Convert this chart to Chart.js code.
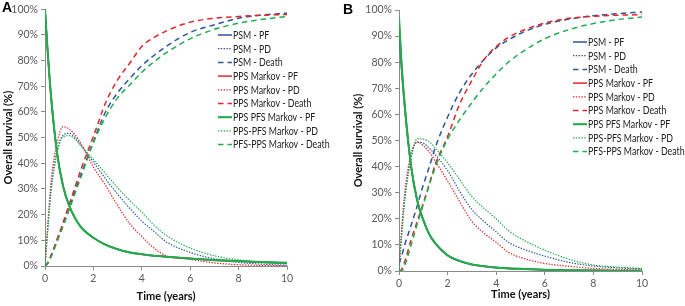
<!DOCTYPE html>
<html>
<head>
<meta charset="utf-8">
<script src="https://cdn.jsdelivr.net/npm/chart.js@4.4.1/dist/chart.umd.min.js"></script>
<style>
  html, body { margin: 0; padding: 0; background: #fff; }
  .panel { position: absolute; top: 0; height: 306px; }
  .tag { position: absolute; font: bold 14px "Liberation Sans", Arial, sans-serif; color: #000; }
</style>
</head>
<body>
<div class="panel" style="left:0;width:340px"><canvas id="chartA"></canvas></div>
<div class="panel" style="left:340px;width:345px"><canvas id="chartB"></canvas></div>
<div class="tag" style="left:2px;top:-1px">A</div>
<div class="tag" style="left:343px;top:1px">B</div>
<script>
// time points (years) shared by every series
const timeYears = [0, 0.1, 0.25, 0.5, 0.75, 1, 1.25, 1.5, 2, 2.5, 3, 3.5, 4, 4.5, 5, 6, 7, 8, 9, 10];

const seriesLabels = [
  "PSM - PF", "PSM - PD", "PSM - Death",
  "PPS Markov - PF", "PPS Markov - PD", "PPS Markov - Death",
  "PPS PFS Markov - PF", "PPS-PFS Markov - PD", "PFS-PPS Markov - Death"
];

// panel A (%)
const aPsmPf    = [100, 85, 66, 44, 31, 23.5, 18.5, 15, 11, 8.3, 6.5, 5.3, 4.6, 4, 3.6, 2.9, 2.3, 1.9, 1.5, 1.2];
const aPsmPd    = [0, 13, 30, 45, 51, 51.7, 50, 46.8, 40.5, 34, 28, 22.5, 17.5, 13.5, 9.5, 5.3, 2.8, 1.4, 0.7, 0.3];
const aPsmDeath = [0, 1, 4, 10, 16, 22.5, 29.5, 36, 48.5, 60, 67.5, 73, 78, 82, 85.5, 91, 94, 96.5, 97.8, 98.5];
const aPpsPf    = [100, 85, 66, 44, 31, 23.5, 18.5, 15, 11, 8.3, 6.5, 5.3, 4.6, 4, 3.6, 2.9, 2.3, 1.9, 1.5, 1.2];
const aPpsPd    = [0, 14, 33, 48, 54.3, 53.3, 51, 47.5, 38.5, 31.5, 23.5, 16.5, 11.5, 7, 4, 2.6, 1.2, 0.5, 0.2, 0.1];
const aPpsDeath = [0, 1, 4, 10.5, 17, 24, 31, 38, 50.5, 63.5, 72.5, 79, 85.5, 89, 91.5, 95, 96.5, 97.2, 97.7, 98];
const aPfsPf    = [100, 85, 66, 44, 31, 23.5, 18.5, 15, 11, 8.3, 6.5, 5.3, 4.6, 4, 3.6, 2.9, 2.3, 1.9, 1.5, 1.2];
const aPfsPd    = [0, 12, 29, 44, 50.3, 50.8, 49.4, 46.7, 41.5, 36, 30.5, 25.5, 21, 16, 12, 7, 4, 2.4, 1.5, 0.9];
const aPfsDeath = [0, 0.8, 3.5, 9.5, 15.5, 22, 28.5, 35, 48, 58, 65.5, 70.5, 75.5, 79.5, 83, 88.5, 92.2, 94.6, 96.1, 97.2];

// panel B (%)
const bPsmPf    = [93, 78, 61, 40, 27, 19.5, 14, 10.5, 6, 3.8, 2.5, 1.8, 1.3, 1, 0.8, 0.5, 0.3, 0.2, 0.1, 0.1];
const bPsmPd    = [0, 14, 29, 44, 49.3, 49, 47, 44.5, 38.5, 30.5, 23.5, 19, 15, 11, 8.8, 5.7, 3.3, 1.9, 1.2, 0.8];
const bPsmDeath = [3, 5.5, 10.5, 17.5, 25, 33, 40, 47.5, 59, 68.5, 75.5, 81, 85.5, 88.5, 91, 94.5, 96.5, 97.8, 98.6, 99.2];
const bPpsPf    = [97, 80, 62, 40, 27, 19.5, 14, 10.5, 6, 3.8, 2.5, 1.8, 1.3, 1, 0.8, 0.5, 0.3, 0.2, 0.1, 0.1];
const bPpsPd    = [0, 15, 31, 45, 49.5, 48, 45.5, 42, 34.5, 26.5, 19, 14.5, 11, 7.2, 5.2, 2.9, 1.8, 1, 0.6, 0.4];
const bPpsDeath = [0, 0.5, 4, 12, 19, 26, 33.5, 41, 51.5, 64, 73, 81, 86, 89.5, 91.8, 95, 96.8, 97.6, 98, 98.2];
const bPfsPf    = [97, 80, 62, 40, 27, 19.5, 14, 10.5, 6, 3.8, 2.5, 1.8, 1.3, 1, 0.8, 0.5, 0.3, 0.2, 0.1, 0.1];
const bPfsPd    = [0, 12, 28, 43, 50.7, 50.5, 49.5, 47, 41.5, 35, 28.5, 24, 20, 15.5, 12.5, 8, 4.5, 2.3, 1.5, 1];
const bPfsDeath = [0, 0, 2.5, 10, 18, 25.5, 33, 40, 50.5, 58, 64.5, 70.5, 75.5, 80, 83.5, 89, 92.5, 94.8, 96.3, 97.3];

const blue = "#2F5597";
const red = "#E2262B";
const green = "#1FAD4E";
const FONT = "Lato, 'Liberation Sans', sans-serif";

const styles = [
  { color: blue, width: 1.5, dash: [] },
  { color: blue, width: 1.2, dash: [1.4, 1.4] },
  { color: blue, width: 1.5, dash: [5.5, 4] },
  { color: red, width: 1.5, dash: [] },
  { color: red, width: 1.2, dash: [1.4, 1.4] },
  { color: red, width: 1.5, dash: [5.5, 4] },
  { color: green, width: 2.1, dash: [] },
  { color: green, width: 1.2, dash: [1.4, 1.4] },
  { color: green, width: 1.5, dash: [5.5, 4] },
];
// green drawn on top, then red, then blue
const drawOrder = [3, 3, 3, 2, 2, 2, 0, 1, 1];

function makeDatasets(values) {
  return values.map((vals, i) => ({
    label: seriesLabels[i],
    data: vals.map((v, j) => ({ x: timeYears[j], y: v })),
    borderColor: styles[i].color,
    borderWidth: styles[i].width,
    borderDash: styles[i].dash,
    pointRadius: 0,
    fill: false,
    cubicInterpolationMode: "monotone",
    order: drawOrder[i],
  }));
}

// legend drawn inside the plot, like the original
const insideLegend = {
  id: "insideLegend",
  afterDraw(chart, args, opts) {
    const ctx = chart.ctx;
    ctx.save();
    ctx.font = "10.5px " + FONT;
    ctx.textBaseline = "middle";
    chart.data.datasets.forEach((ds, i) => {
      const y = opts.y + i * opts.gap;
      ctx.beginPath();
      ctx.strokeStyle = ds.borderColor;
      ctx.lineWidth = ds.borderWidth;
      ctx.setLineDash(ds.borderDash);
      ctx.moveTo(opts.x, y);
      ctx.lineTo(opts.x + 14, y);
      ctx.stroke();
      ctx.setLineDash([]);
      ctx.fillStyle = "#222";
      // narrow the text a little, the original used a condensed face
      ctx.save();
      ctx.translate(opts.x + 15, y + 0.5);
      ctx.scale(0.84, 1);
      ctx.fillText(ds.label, 0, 0);
      ctx.restore();
    });
    ctx.restore();
  },
};

function makeChart(id, values, box) {
  return new Chart(document.getElementById(id), {
    type: "line",
    data: { datasets: makeDatasets(values) },
    plugins: [insideLegend],
    options: {
      responsive: true,
      maintainAspectRatio: false,
      animation: false,
      layout: { padding: { left: 0, top: box.top, right: box.right, bottom: 0 } },
      plugins: {
        legend: { display: false },
        tooltip: { enabled: false },
        insideLegend: box.legend,
      },
      scales: {
        x: {
          type: "linear",
          min: 0,
          max: 10,
          afterFit: (s) => { s.height = box.xHeight; },
          ticks: { stepSize: 2, color: "#595959", font: { family: FONT, size: 10.5 }, padding: 2 },
          grid: { drawOnChartArea: false, tickLength: 4, color: "#8a8a8a" },
          border: { color: "#8a8a8a" },
          title: {
            display: true,
            text: "Time (years)",
            color: "#111",
            font: { family: FONT, size: 11, weight: "bold" },
            padding: { top: 0, bottom: box.xTitlePad },
          },
        },
        y: {
          min: 0,
          max: 100,
          afterFit: (s) => { s.width = box.yWidth; },
          ticks: {
            stepSize: 10,
            color: "#595959",
            font: { family: FONT, size: 10.5 },
            padding: 3,
            callback: (v) => v + "%",
          },
          grid: { drawOnChartArea: false, tickLength: 4, color: "#8a8a8a" },
          border: { color: "#8a8a8a" },
          title: {
            display: true,
            text: "Overall survival (%)",
            color: "#111",
            font: { family: FONT, size: 11, weight: "bold" },
            padding: { top: box.yTitlePad, bottom: 0 },
          },
        },
      },
    },
  });
}

makeChart("chartA",
  [aPsmPf, aPsmPd, aPsmDeath, aPpsPf, aPpsPd, aPpsDeath, aPfsPf, aPfsPd, aPfsDeath],
  { top: 5, right: 53, yWidth: 45, xHeight: 40, xTitlePad: 3, yTitlePad: 2, legend: { x: 218, y: 35, gap: 13.7 } });

makeChart("chartB",
  [bPsmPf, bPsmPd, bPsmDeath, bPpsPf, bPpsPd, bPpsDeath, bPfsPf, bPfsPd, bPfsDeath],
  { top: 10, right: 43, yWidth: 59, xHeight: 35, xTitlePad: 5, yTitlePad: 12, legend: { x: 233, y: 42, gap: 13.7 } });
</script>
</body>
</html>
